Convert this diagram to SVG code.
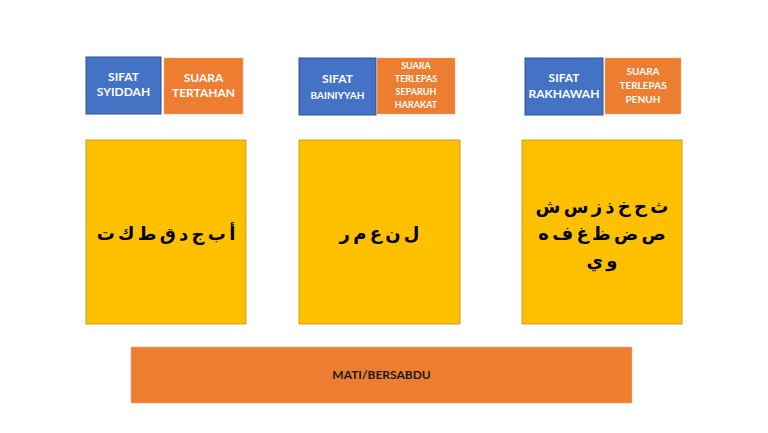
<svg xmlns="http://www.w3.org/2000/svg" width="768" height="433" viewBox="0 0 768 433">
<style>
.blue{fill:#4472C4;stroke:#2F528F;stroke-width:1}
.orange{fill:#ED7D31;stroke:#F4B183;stroke-width:0.5}
.yellow{fill:#FFC000;stroke:#BF9000;stroke-width:0.8}
.w{font-family:Lato,"Liberation Sans",sans-serif;font-weight:bold;fill:#fff;text-anchor:middle}
.ar{font-family:"DejaVu Sans","Noto Sans",sans-serif;font-weight:bold;fill:#000;text-anchor:middle;font-size:18px;word-spacing:-3px}
.k{font-family:Lato,"Liberation Sans",sans-serif;font-weight:bold;fill:#1a1a1a;text-anchor:middle;font-size:12px}
</style>
<rect width="768" height="433" fill="#fff"/>
<g id="sifat-syiddah"><rect class="blue" x="86" y="57" width="75" height="57"/><text class="w" font-size="12" x="123.5" y="81">SIFAT</text><text class="w" font-size="12" x="123.5" y="96">SYIDDAH</text></g>
<g id="suara-tertahan"><rect class="orange" x="164" y="58" width="79" height="56"/><text class="w" font-size="12" x="203.5" y="82">SUARA</text><text class="w" font-size="12" x="203.5" y="97">TERTAHAN</text></g>
<g id="sifat-bainiyyah"><rect class="blue" x="299" y="58" width="77" height="57"/><text class="w" font-size="12" x="337.5" y="83">SIFAT</text><text class="w" font-size="10" x="337.5" y="99">BAINIYYAH</text></g>
<g id="suara-separuh"><rect class="orange" x="377" y="58" width="78" height="56"/><text class="w" font-size="9" x="416" y="69">SUARA</text><text class="w" font-size="9" x="416" y="82">TERLEPAS</text><text class="w" font-size="9" x="416" y="95">SEPARUH</text><text class="w" font-size="9" x="416" y="108">HARAKAT</text></g>
<g id="sifat-rakhawah"><rect class="blue" x="525" y="58" width="78" height="57"/><text class="w" font-size="12" x="564" y="82">SIFAT</text><text class="w" font-size="12" x="564" y="98">RAKHAWAH</text></g>
<g id="suara-penuh"><rect class="orange" x="605" y="58" width="76" height="56"/><text class="w" font-size="10" x="643" y="75">SUARA</text><text class="w" font-size="10" x="643" y="89">TERLEPAS</text><text class="w" font-size="10" x="643" y="103">PENUH</text></g>
<g id="huruf-syiddah"><rect class="yellow" x="86" y="140" width="160" height="184"/><text class="ar" x="166" y="240" direction="rtl">أ ب ج د ق ط ك ت</text></g>
<g id="huruf-bainiyyah"><rect class="yellow" x="299" y="140" width="161" height="184"/><text class="ar" x="379.5" y="240" direction="rtl">ل ن ع م ر</text></g>
<g id="huruf-rakhawah"><rect class="yellow" x="522" y="140" width="160" height="184"/><text class="ar" x="602" y="213" direction="rtl">ث ح خ ذ ز س ش</text><text class="ar" x="602" y="240" direction="rtl">ص ض ظ غ ف ه</text><text class="ar" x="602" y="267" direction="rtl">و ي</text></g>
<g id="mati"><rect class="orange" x="131" y="347" width="501" height="56"/><text class="k" x="381.5" y="379">MATI/BERSABDU</text></g>
<g id="connectors"></g>
</svg>
